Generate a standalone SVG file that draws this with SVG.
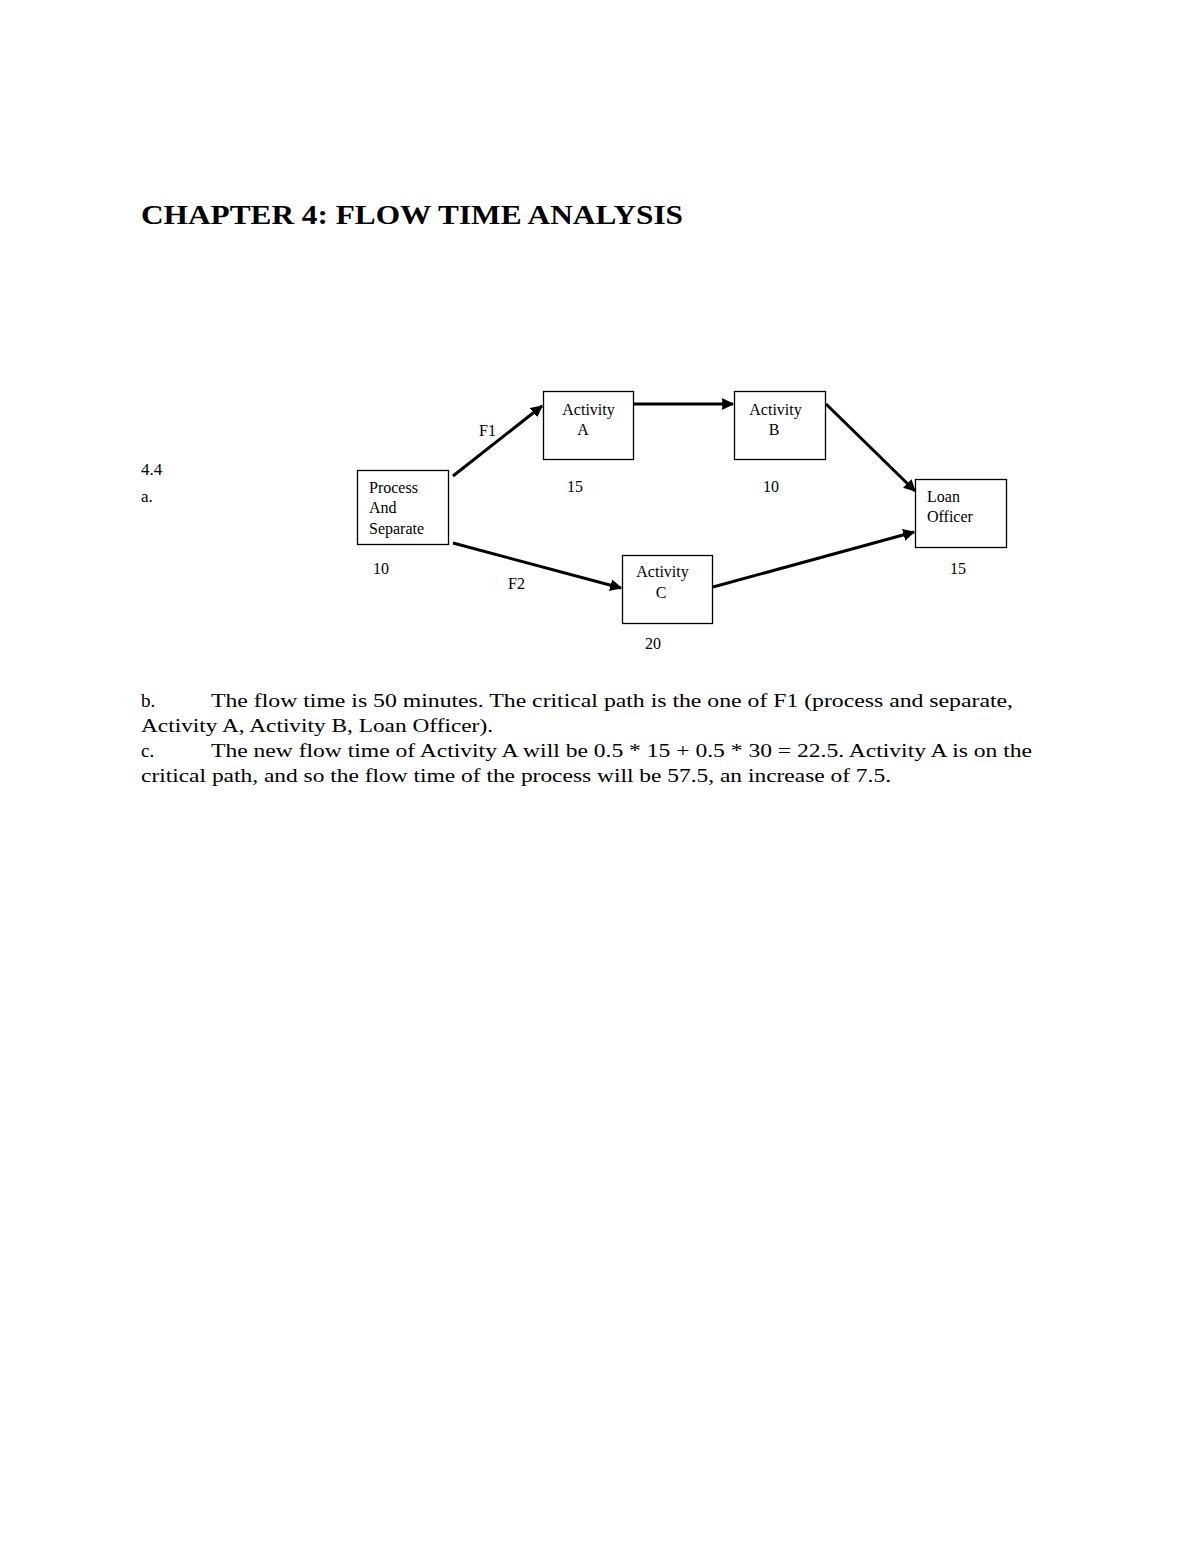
<svg xmlns="http://www.w3.org/2000/svg" width="1200" height="1553" viewBox="0 0 1200 1553">
<style>
text{font-family:"Liberation Serif","Times New Roman",serif;fill:#000}
.t{font-size:16px}
.p{font-size:19px}
.box{fill:#fff;stroke:#000;stroke-width:1.3}
.c{stroke:#000;stroke-width:3;fill:none;marker-end:url(#ah)}
</style>
<defs>
<marker id="ah" viewBox="0 0 10 10" refX="9" refY="5" markerWidth="4" markerHeight="4" orient="auto" markerUnits="strokeWidth">
<path d="M0,0 L10,5 L0,10 z" fill="#000"/>
</marker>
</defs>
<rect width="1200" height="1553" fill="#fff"/>
<text x="141" y="224" font-size="27" font-weight="bold" textLength="542" lengthAdjust="spacingAndGlyphs">CHAPTER 4: FLOW TIME ANALYSIS</text>
<text x="141" y="475" font-size="17">4.4</text>
<text x="141" y="502" font-size="17">a.</text>
<g id="connectors">
<line class="c" x1="453" y1="476" x2="542" y2="406"/>
<line class="c" x1="634" y1="404" x2="733" y2="404"/>
<line class="c" x1="826" y1="404" x2="915" y2="491"/>
<line class="c" x1="453" y1="543" x2="621" y2="588"/>
<line class="c" x1="713" y1="587" x2="914" y2="532"/>
<text class="t" x="479" y="436">F1</text>
<text class="t" x="508" y="589">F2</text>
</g>
<g id="process">
<rect class="box" x="357.5" y="470.5" width="91" height="74"/>
<text class="t" x="369" y="493">Process</text>
<text class="t" x="369" y="513">And</text>
<text class="t" x="369" y="534">Separate</text>
<text class="t" x="373" y="574">10</text>
</g>
<g id="activityA">
<rect class="box" x="543.5" y="391.5" width="90" height="68"/>
<text class="t" x="588.5" y="415" text-anchor="middle">Activity</text>
<text class="t" x="583" y="435" text-anchor="middle">A</text>
<text class="t" x="567" y="492">15</text>
</g>
<g id="activityB">
<rect class="box" x="734.5" y="391.5" width="91" height="68"/>
<text class="t" x="775.5" y="415" text-anchor="middle">Activity</text>
<text class="t" x="774" y="435" text-anchor="middle">B</text>
<text class="t" x="763" y="492">10</text>
</g>
<g id="loanOfficer">
<rect class="box" x="915.5" y="479.5" width="91" height="68"/>
<text class="t" x="927" y="502">Loan</text>
<text class="t" x="927" y="522">Officer</text>
<text class="t" x="950" y="574">15</text>
</g>
<g id="activityC">
<rect class="box" x="622.5" y="555.5" width="90" height="68"/>
<text class="t" x="662.5" y="577" text-anchor="middle">Activity</text>
<text class="t" x="661" y="598" text-anchor="middle">C</text>
<text class="t" x="645" y="649">20</text>
</g>
<text class="p" x="141" y="707">b.</text>
<text class="p" x="211" y="707" textLength="802" lengthAdjust="spacingAndGlyphs">The flow time is 50 minutes.  The critical path is the one of F1 (process and separate,</text>
<text class="p" x="141" y="732" textLength="352" lengthAdjust="spacingAndGlyphs">Activity A, Activity B, Loan Officer).</text>
<text class="p" x="141" y="757">c.</text>
<text class="p" x="211" y="757" textLength="821" lengthAdjust="spacingAndGlyphs">The new flow time of Activity A will be 0.5 * 15 + 0.5 * 30 = 22.5. Activity A is on the</text>
<text class="p" x="141" y="782" textLength="750" lengthAdjust="spacingAndGlyphs">critical path, and so the flow time of the process will be 57.5, an increase of 7.5.</text>
</svg>
